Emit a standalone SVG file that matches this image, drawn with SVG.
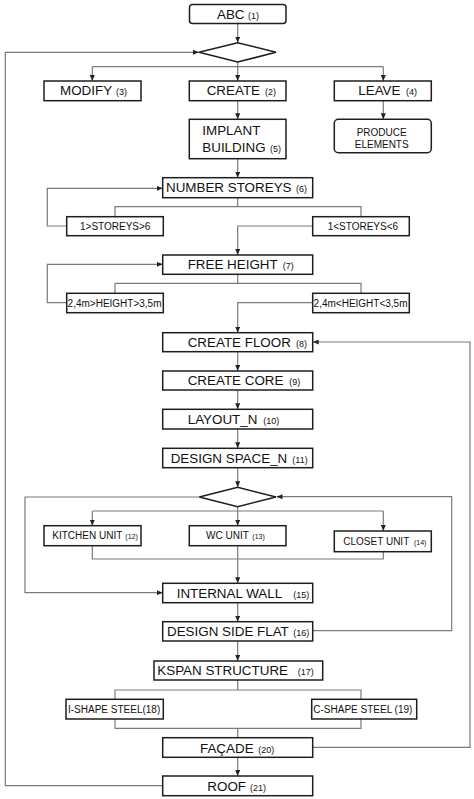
<svg xmlns="http://www.w3.org/2000/svg" width="474" height="799" viewBox="0 0 474 799">
<defs>
<marker id="ah" viewBox="0 0 6 5" refX="6" refY="2.5" markerWidth="6" markerHeight="5" markerUnits="userSpaceOnUse" orient="auto">
<path d="M0,0 L6,2.5 L0,5 Z" fill="#222"/>
</marker>
<style>
.b{fill:#fff;stroke:#1e1e1e;stroke-width:1.5}
.c{fill:none;stroke:#7a7a7a;stroke-width:1.2}
.a{marker-end:url(#ah)}
text{font-family:"Liberation Sans",Arial,sans-serif;fill:#111}
.m{font-size:13.4px}
.s{font-size:10px}
.n{font-size:9px}
.k{font-size:7px}
</style>
</defs>
<rect width="474" height="799" fill="#fff"/>
<g id="connectors">
<path class="c a" d="M237.7 23.7V42.7"/>
<path class="c a" d="M162.7 785.7H5.3V52.3H199"/>
<path class="c" d="M92.3 66.7H383.3"/>
<path class="c a" d="M237.7 62V81"/>
<path class="c a" d="M92.3 66.7V81"/>
<path class="c a" d="M383.3 66.7V81"/>
<path class="c a" d="M237.7 100.7V119.3"/>
<path class="c a" d="M383.3 100.7V119.3"/>
<path class="c a" d="M237.7 158.7V177.7"/>
<path class="c" d="M237.7 197.7V206.7M115 216.7V206.7H361V216.7"/>
<path class="c a" d="M66.7 226H47.3V188.3H162.7"/>
<path class="c a" d="M312.7 226H237.7V255"/>
<path class="c" d="M237.7 274.3V283.3M115 293.3V283.3H361V293.3"/>
<path class="c a" d="M66.7 302.7H47.3V264.3H162.7"/>
<path class="c a" d="M312.7 302.7H237.7V332.7"/>
<path class="c a" d="M312.7 747.3H470V342H312.7"/>
<path class="c a" d="M237.7 351.7V371"/>
<path class="c a" d="M237.7 390V409.3"/>
<path class="c a" d="M237.7 429V448.3"/>
<path class="c a" d="M237.7 467.7V487.3"/>
<path class="c" d="M92.3 511H383.3"/>
<path class="c a" d="M237.7 506.7V525.7"/>
<path class="c a" d="M92.3 511V525.7"/>
<path class="c a" d="M383.3 511V531"/>
<path class="c" d="M92.3 545.7V559H383.3V551.7"/>
<path class="c a" d="M237.7 545.7V583.3"/>
<path class="c a" d="M199.3 497H25V592.7H162.7"/>
<path class="c a" d="M312.7 630.7H451.7V496.7H276.5"/>
<path class="c a" d="M237.7 602.7V621.7"/>
<path class="c a" d="M237.7 641V661"/>
<path class="c" d="M237.7 680V690M115 699.3V690H361V699.3"/>
<path class="c" d="M115 719V728.3H361V719M237.7 728.3V737.7"/>
<path class="c a" d="M237.7 757.3V776"/>
</g>
<g id="n1"><rect class="b" x="189.5" y="4.5" width="96.5" height="19" rx="3"/><text class="m" x="217" y="18.7">ABC<tspan class="n" x="248" font-size="10px">(1)</tspan></text></g>
<g id="d1"><polygon class="b" points="199,52.3 237.7,42.7 276,52.3 237.7,62"/></g>
<g id="n3"><rect class="b" x="44" y="81" width="97" height="19.7"/><text class="m" x="60" y="95.2">MODIFY<tspan class="n" x="116">(3)</tspan></text></g>
<g id="n2"><rect class="b" x="189.3" y="81" width="96.7" height="19.7"/><text class="m" x="206.7" y="95.2">CREATE<tspan class="n" x="265">(2)</tspan></text></g>
<g id="n4"><rect class="b" x="334.3" y="81" width="97" height="19.7"/><text class="m" x="358.3" y="95.2">LEAVE<tspan class="n" x="406">(4)</tspan></text></g>
<g id="n5"><rect class="b" x="189.3" y="119.3" width="96.7" height="39.4"/><text class="m" x="202.3" y="134.5">IMPLANT</text><text class="m" x="202.3" y="151.8">BUILDING<tspan class="n" x="270">(5)</tspan></text></g>
<g id="produce"><rect class="b" x="334.3" y="119.3" width="97" height="33.4" rx="4"/><text class="s" x="381.7" y="136" text-anchor="middle">PRODUCE</text><text class="s" x="381.7" y="147.6" text-anchor="middle">ELEMENTS</text></g>
<g id="n6"><rect class="b" x="162.7" y="177.7" width="150" height="20"/><text class="m" x="166" y="191.8">NUMBER STOREYS<tspan class="n" x="296">(6)</tspan></text></g>
<g id="s1"><rect class="b" x="66.7" y="216.7" width="96.6" height="19"/><text class="s" x="80" y="229.8">1&gt;STOREYS&gt;6</text></g>
<g id="s2"><rect class="b" x="312.7" y="216.7" width="96.6" height="19"/><text class="s" x="327.7" y="229.8">1&lt;STOREYS&lt;6</text></g>
<g id="n7"><rect class="b" x="162.7" y="255" width="150" height="19.3"/><text class="m" x="187.7" y="269.2">FREE HEIGHT<tspan class="n" x="282.7">(7)</tspan></text></g>
<g id="h1"><rect class="b" x="66.7" y="293.3" width="96.6" height="19.4"/><text class="s" x="67.6" y="306.5">2,4m&gt;HEIGHT&gt;3,5m</text></g>
<g id="h2"><rect class="b" x="312.7" y="293.3" width="96.6" height="19.4"/><text class="s" x="313.6" y="306.5">2,4m&lt;HEIGHT&lt;3,5m</text></g>
<g id="n8"><rect class="b" x="162.7" y="332.7" width="150" height="19"/><text class="m" x="187.7" y="346.8">CREATE FLOOR<tspan class="n" x="296">(8)</tspan></text></g>
<g id="n9"><rect class="b" x="162.7" y="371" width="150" height="19"/><text class="m" x="187.7" y="385.1">CREATE CORE<tspan class="n" x="289.3">(9)</tspan></text></g>
<g id="n10"><rect class="b" x="162.7" y="409.3" width="150" height="19.7"/><text class="m" x="187.7" y="423.8">LAYOUT_N<tspan class="n" x="263.3">(10)</tspan></text></g>
<g id="n11"><rect class="b" x="162.7" y="448.3" width="150" height="19.4"/><text class="m" x="170.7" y="462.6">DESIGN SPACE_N<tspan class="n" x="292.3">(11)</tspan></text></g>
<g id="d2"><polygon class="b" points="199.3,497 237.7,487.3 276,497 237.7,506.7"/></g>
<g id="n12"><rect class="b" x="44" y="525.7" width="97" height="20"/><text class="s" x="52.3" y="538.8">KITCHEN UNIT<tspan class="k" x="125.3">(12)</tspan></text></g>
<g id="n13"><rect class="b" x="189.3" y="525.7" width="96.7" height="20"/><text class="s" x="206" y="538.8">WC UNIT<tspan class="k" x="252.3">(13)</tspan></text></g>
<g id="n14"><rect class="b" x="334.3" y="531" width="97" height="20.7"/><text class="s" x="343.3" y="544.6" font-size="10.4px">CLOSET UNIT<tspan class="k" x="414">(14)</tspan></text></g>
<g id="n15"><rect class="b" x="162.7" y="583.3" width="150" height="19.4"/><text class="m" x="176.7" y="597.8">INTERNAL WALL<tspan class="n" x="293.3">(15)</tspan></text></g>
<g id="n16"><rect class="b" x="162.7" y="621.7" width="150" height="19.3"/><text class="m" x="167" y="636.1">DESIGN SIDE FLAT<tspan class="n" x="293.3">(16)</tspan></text></g>
<g id="n17"><rect class="b" x="154" y="661" width="168.7" height="19"/><text class="m" x="157.3" y="675.1">KSPAN STRUCTURE<tspan class="n" x="297.7">(17)</tspan></text></g>
<g id="n18"><rect class="b" x="66" y="699.3" width="97.3" height="19.7"/><text class="s" x="68" y="712.6" font-size="10.2px">I-SHAPE STEEL(18)</text></g>
<g id="n19"><rect class="b" x="311.7" y="699.3" width="105" height="19.7"/><text class="s" x="313.3" y="712.6" font-size="10.1px">C-SHAPE STEEL (19)</text></g>
<g id="n20"><rect class="b" x="162.7" y="737.7" width="150" height="19.6"/><text class="m" x="200" y="752.6">FAÇADE<tspan class="n" x="258.3">(20)</tspan></text></g>
<g id="n21"><rect class="b" x="162.7" y="776" width="150" height="19.7"/><text class="m" x="207.3" y="790.7">ROOF<tspan class="n" x="250">(21)</tspan></text></g>
</svg>
